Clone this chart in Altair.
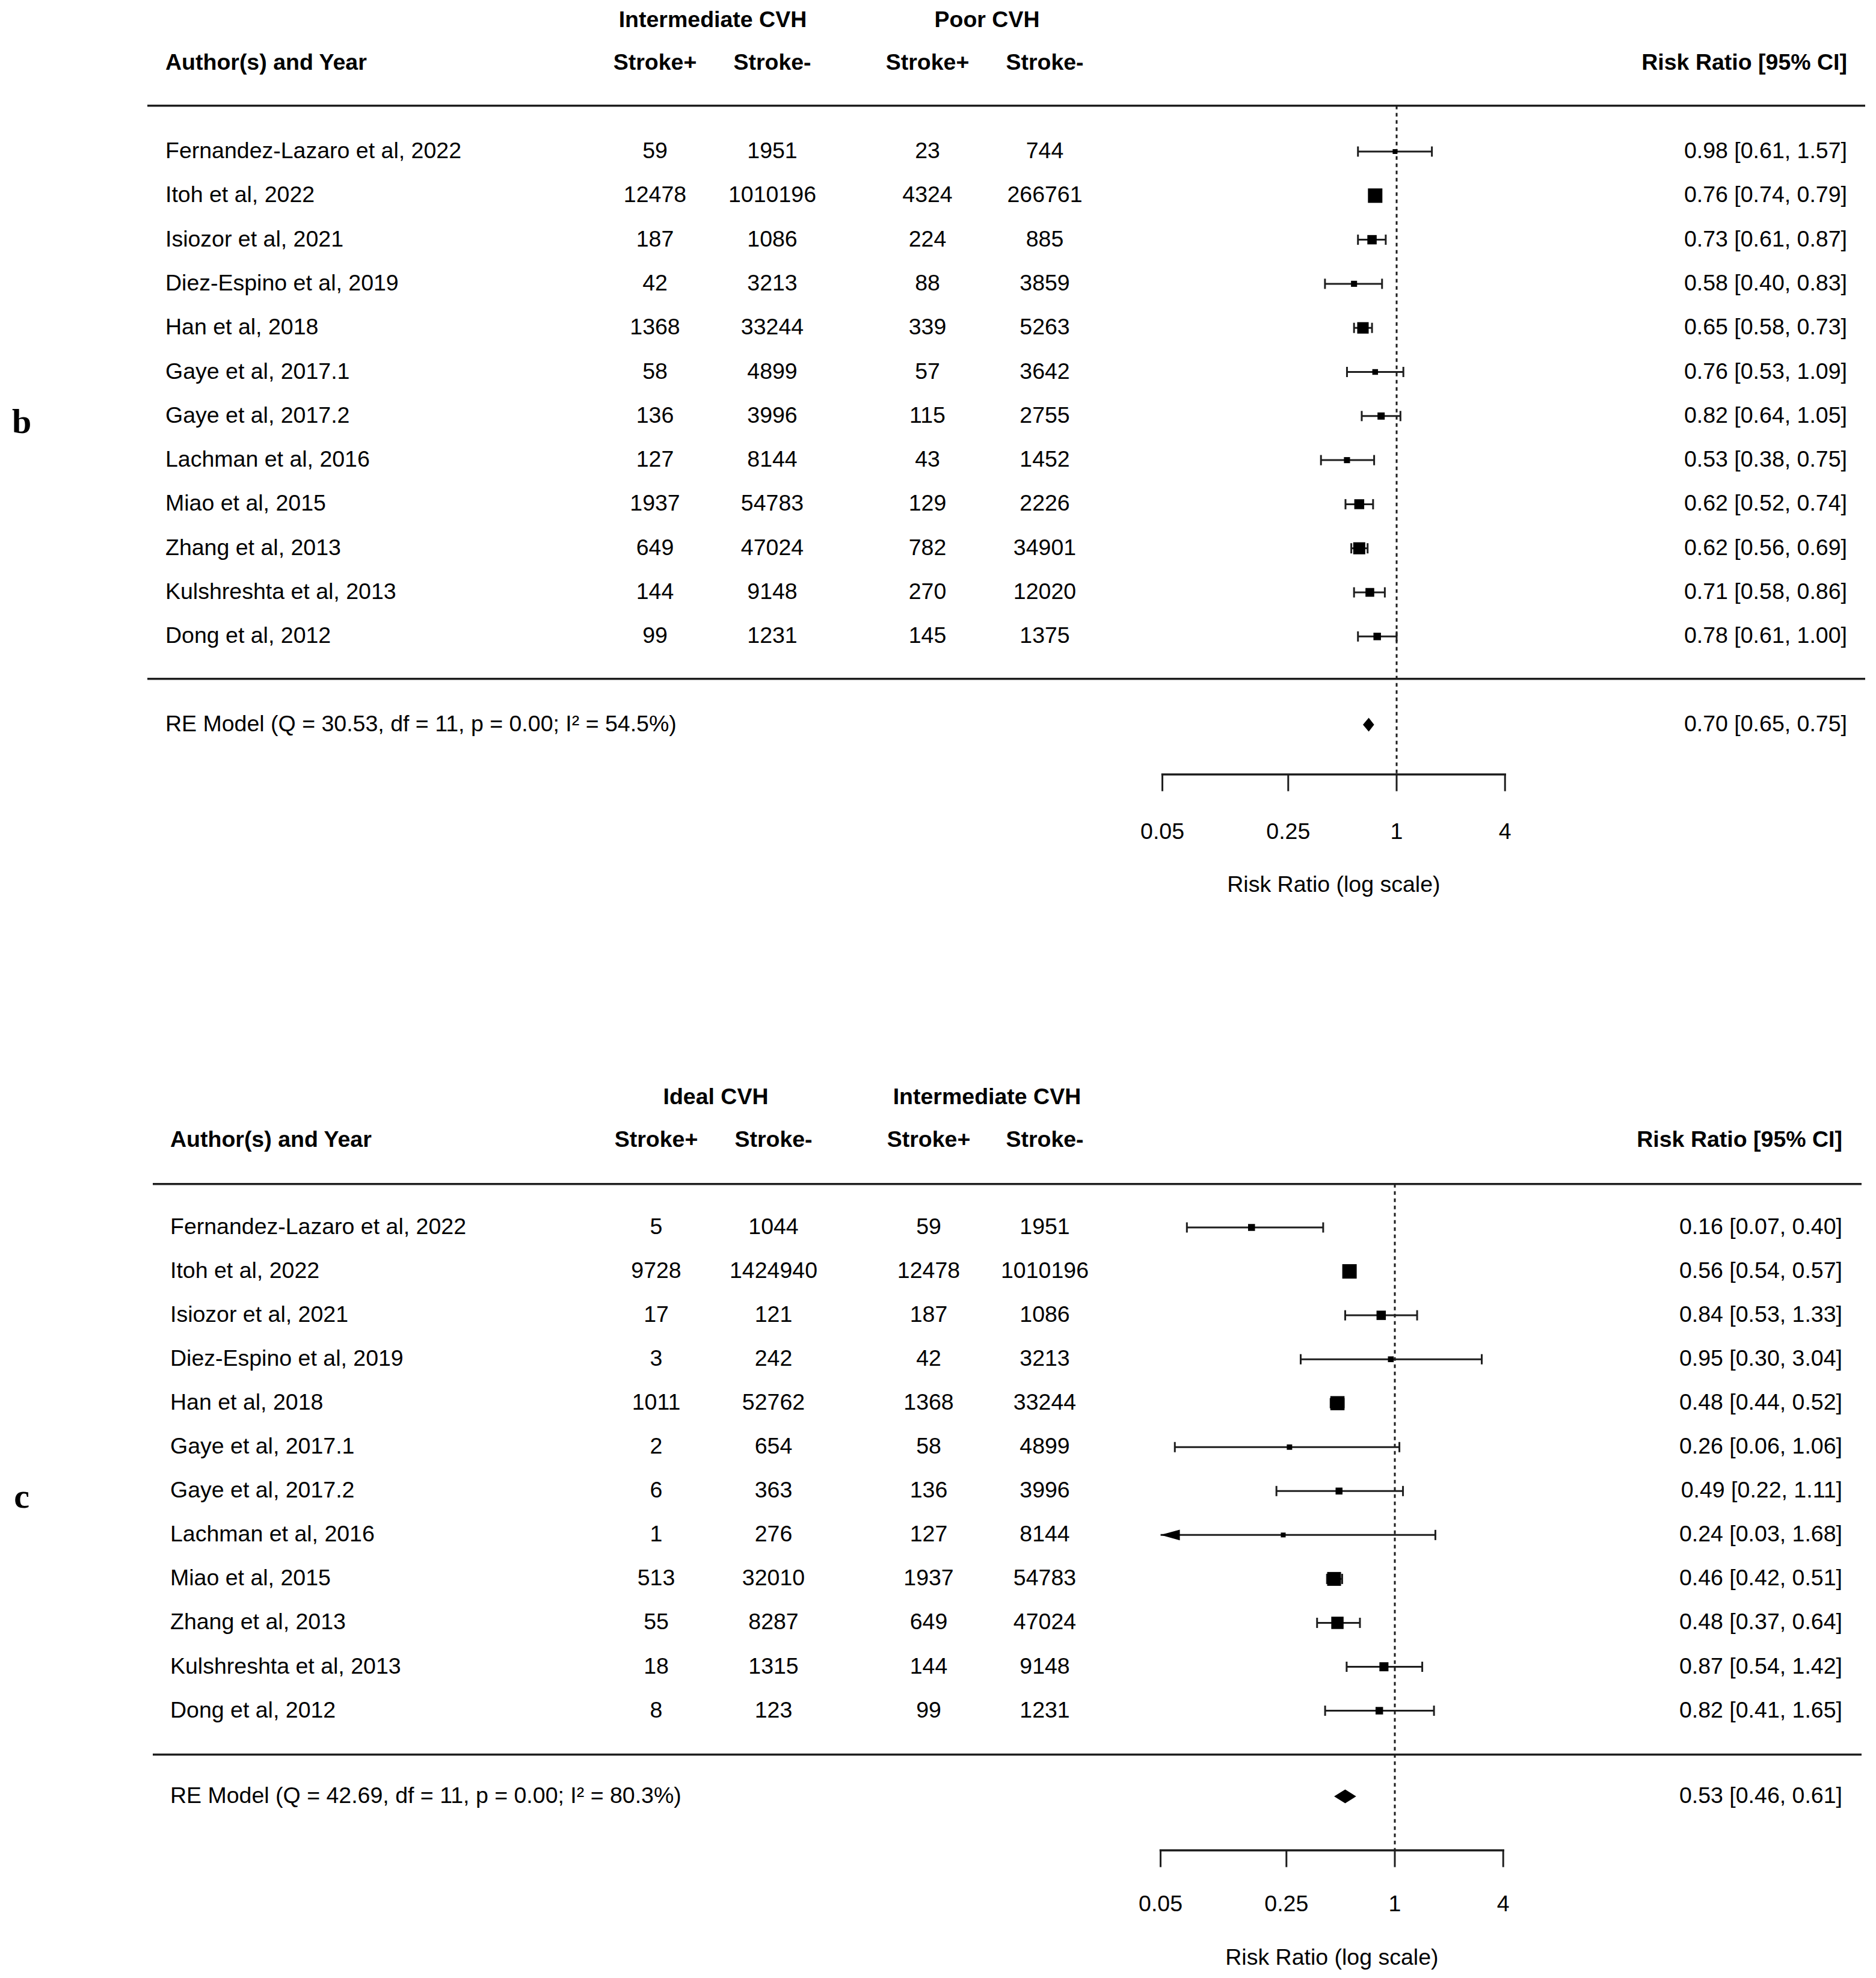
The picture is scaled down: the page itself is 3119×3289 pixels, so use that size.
import math
import pandas as pd
import altair as alt

# ---------------- data ----------------
authors = [
    "Fernandez-Lazaro et al, 2022", "Itoh et al, 2022", "Isiozor et al, 2021",
    "Diez-Espino et al, 2019", "Han et al, 2018", "Gaye et al, 2017.1",
    "Gaye et al, 2017.2", "Lachman et al, 2016", "Miao et al, 2015",
    "Zhang et al, 2013", "Kulshreshta et al, 2013", "Dong et al, 2012",
]

# panel b : Intermediate CVH vs Poor CVH
b_int_pos = [59, 12478, 187, 42, 1368, 58, 136, 127, 1937, 649, 144, 99]
b_int_neg = [1951, 1010196, 1086, 3213, 33244, 4899, 3996, 8144, 54783, 47024, 9148, 1231]
b_poor_pos = [23, 4324, 224, 88, 339, 57, 115, 43, 129, 782, 270, 145]
b_poor_neg = [744, 266761, 885, 3859, 5263, 3642, 2755, 1452, 2226, 34901, 12020, 1375]
b_rr = [0.98, 0.76, 0.73, 0.58, 0.65, 0.76, 0.82, 0.53, 0.62, 0.62, 0.71, 0.78]
b_lo = [0.61, 0.74, 0.61, 0.40, 0.58, 0.53, 0.64, 0.38, 0.52, 0.56, 0.58, 0.61]
b_hi = [1.57, 0.79, 0.87, 0.83, 0.73, 1.09, 1.05, 0.75, 0.74, 0.69, 0.86, 1.00]
b_weight = [0.00, 1.00, 0.47, 0.13, 0.69, 0.09, 0.25, 0.13, 0.53, 0.75, 0.41, 0.28]  # relative (box size)
b_re = [0.70, 0.65, 0.75]
b_re_text = "RE Model (Q = 30.53, df = 11, p = 0.00; I\u00b2 = 54.5%)"

# panel c : Ideal CVH vs Intermediate CVH
c_ideal_pos = [5, 9728, 17, 3, 1011, 2, 6, 1, 513, 55, 18, 8]
c_ideal_neg = [1044, 1424940, 121, 242, 52762, 654, 363, 276, 32010, 8287, 1315, 123]
c_int_pos = [59, 12478, 187, 42, 1368, 58, 136, 127, 1937, 649, 144, 99]
c_int_neg = [1951, 1010196, 1086, 3213, 33244, 4899, 3996, 8144, 54783, 47024, 9148, 1231]
c_rr = [0.16, 0.56, 0.84, 0.95, 0.48, 0.26, 0.49, 0.24, 0.46, 0.48, 0.87, 0.82]
c_lo = [0.07, 0.54, 0.53, 0.30, 0.44, 0.06, 0.22, 0.03, 0.42, 0.37, 0.54, 0.41]
c_hi = [0.40, 0.57, 1.33, 3.04, 0.52, 1.06, 1.11, 1.68, 0.51, 0.64, 1.42, 1.65]
c_weight = [0.22, 1.00, 0.47, 0.10, 0.97, 0.06, 0.22, 0.00, 0.94, 0.78, 0.44, 0.28]
c_re = [0.53, 0.46, 0.61]
c_re_text = "RE Model (Q = 42.69, df = 11, p = 0.00; I\u00b2 = 80.3%)"

axis_ticks = [0.05, 0.25, 1, 4]
axis_tick_labels = ["0.05", "0.25", "1", "4"]
axis_title = "Risk Ratio (log scale)"

# ---------------- styling / layout ----------------
FONT = "Liberation Sans"
FS = 37.5
INK = "#000000"
LINE = "#1e1e1e"
W = 3103
PX_PER_LN = 130.0
M = 8  # page margin


def panel(cfg):
    rp = cfg["row_px"]
    R = cfg["rows"]
    L0 = -(cfg["one_px"] - M) / PX_PER_LN
    L1 = L0 + W / PX_PER_LN
    xscale = alt.Scale(type="log", domain=[math.exp(L0), math.exp(L1)], nice=False, zero=False)
    d0 = -(cfg["row0"] - cfg["top"]) / rp
    d1 = d0 + cfg["height"] / rp
    yscale = alt.Scale(domain=[d0, d1], reverse=True, nice=False, zero=False)

    def X(f):
        return alt.X(f"{f}:Q", scale=xscale, axis=None)

    def Y(f):
        return alt.Y(f"{f}:Q", scale=yscale, axis=None)

    def px(v):
        return alt.value(v - M)

    lo_lim, hi_lim = axis_ticks[0], axis_ticks[-1]
    n = len(authors)
    df = pd.DataFrame({
        "row": list(range(n)),
        "author": authors,
        "c1": [str(v) for v in cfg["c1"]],
        "c2": [str(v) for v in cfg["c2"]],
        "c3": [str(v) for v in cfg["c3"]],
        "c4": [str(v) for v in cfg["c4"]],
        "rr": cfg["rr"], "lo": cfg["lo"], "hi": cfg["hi"], "w": cfg["weight"],
    })
    df["lo_c"] = df["lo"].clip(lower=lo_lim)
    df["hi_c"] = df["hi"].clip(upper=hi_lim)
    df["label"] = [f"{a:.2f} [{b:.2f}, {c:.2f}]" for a, b, c in zip(df.rr, df.lo, df.hi)]

    caps = pd.concat([
        df.loc[df.lo >= lo_lim, ["row", "lo"]].rename(columns={"lo": "x"}),
        df.loc[df.hi <= hi_lim, ["row", "hi"]].rename(columns={"hi": "x"}),
    ])
    arrows = df.loc[df.lo < lo_lim, ["row"]].assign(x=lo_lim)

    layers = []
    # separator lines
    layers.append(alt.Chart(pd.DataFrame({"y": [R["top"], R["bot"]]})).mark_rule(
        color=LINE, strokeWidth=3.5).encode(
        x=px(cfg["line_x"][0]), x2=px(cfg["line_x"][1]), y=Y("y")))
    # reference line at RR = 1
    layers.append(alt.Chart(pd.DataFrame({"x": [1.0], "y": [R["top"]], "y2": [R["axis"]]})).mark_rule(
        color=LINE, strokeWidth=3, strokeDash=[6, 6]).encode(x=X("x"), y=Y("y"), y2="y2"))
    # confidence intervals
    layers.append(alt.Chart(df).mark_rule(color=LINE, strokeWidth=3).encode(
        x=X("lo_c"), x2="hi_c", y=Y("row")))
    layers.append(alt.Chart(caps).mark_tick(orient="vertical", size=17, thickness=3, color=LINE,
                                            opacity=1).encode(x=X("x"), y=Y("row")))
    if len(arrows):
        layers.append(alt.Chart(arrows).mark_point(
            shape="M-1,0L1,-0.56L1,0.56Z", filled=True, size=1024, xOffset=16,
            color=INK, opacity=1, strokeWidth=0).encode(x=X("x"), y=Y("row")))
    # study boxes
    layers.append(alt.Chart(df).transform_calculate(
        area="pow(8 + 16 * datum.w, 2)").mark_square(
        filled=True, color=INK, opacity=1, strokeWidth=0).encode(
        x=X("rr"), y=Y("row"), size=alt.Size("area:Q", scale=None, legend=None)))
    # summary diamond
    est, rlo, rhi = cfg["re"]
    h = 11.5 / rp
    rre = R["re"]
    dia = pd.DataFrame({"x": [rlo, est, rhi], "ya": [rre, rre - h, rre], "yb": [rre, rre + h, rre]})
    layers.append(alt.Chart(dia).mark_area(orient="vertical", color=INK, opacity=1).encode(
        x=X("x"), y=Y("ya"), y2="yb"))

    # text columns
    def txt(data, field, xv, align="center", bold=False, yfield="row"):
        return alt.Chart(data).mark_text(
            align=align, baseline="middle", font=FONT, fontSize=FS, color=INK,
            fontWeight="bold" if bold else "normal").encode(
            x=px(xv), y=Y(yfield), text=f"{field}:N")

    layers.append(txt(df, "author", cfg["author_x"], align="left"))
    for k, f in enumerate(["c1", "c2", "c3", "c4"]):
        layers.append(txt(df, f, cfg["col_x"][k]))
    layers.append(txt(df, "label", cfg["right_x"], align="right"))

    def one(text, xv, row, align="center", bold=False):
        return txt(pd.DataFrame({"t": [text], "y": [row]}), "t", xv, align=align, bold=bold, yfield="y")

    layers.append(one(cfg["grp1"], cfg["grp_x"][0], R["hdr1"], bold=True))
    layers.append(one(cfg["grp2"], cfg["grp_x"][1], R["hdr1"], bold=True))
    layers.append(one("Author(s) and Year", cfg["author_x"], R["hdr2"], align="left", bold=True))
    for k in range(4):
        layers.append(one("Stroke+" if k % 2 == 0 else "Stroke-", cfg["col_x"][k], R["hdr2"], bold=True))
    layers.append(one("Risk Ratio [95% CI]", cfg["right_x"], R["hdr2"], align="right", bold=True))
    layers.append(one(cfg["re_text"], cfg["author_x"], rre, align="left"))
    layers.append(one(f"{est:.2f} [{rlo:.2f}, {rhi:.2f}]", cfg["right_x"], rre, align="right"))

    # panel tag
    layers.append(alt.Chart(pd.DataFrame({"t": [cfg["tag"]], "y": [cfg["tag_row"]]})).mark_text(
        align="center", baseline="middle", font="Liberation Serif", fontSize=58,
        fontWeight="bold", color=INK).encode(x=px(36), y=Y("y"), text="t:N"))

    # x axis drawn from the tick values
    ax = pd.DataFrame({"a": [lo_lim], "b": [hi_lim], "y": [R["axis"]]})
    layers.append(alt.Chart(ax).mark_rule(color=LINE, strokeWidth=3.5, strokeCap="square").encode(
        x=X("a"), x2="b", y=Y("y")))
    tk = pd.DataFrame({"x": axis_ticks, "lab": axis_tick_labels,
                       "y": [R["axis"]] * 4, "y2": [R["axis"] + 0.38] * 4, "yl": [R["tlab"]] * 4})
    layers.append(alt.Chart(tk).mark_rule(color=LINE, strokeWidth=3).encode(x=X("x"), y=Y("y"), y2="y2"))
    layers.append(alt.Chart(tk).mark_text(baseline="middle", font=FONT, fontSize=FS, color=INK).encode(
        x=X("x"), y=Y("yl"), text="lab:N"))
    tt = pd.DataFrame({"x": [math.sqrt(lo_lim * hi_lim)], "y": [R["title"]], "t": [axis_title]})
    layers.append(alt.Chart(tt).mark_text(baseline="middle", font=FONT, fontSize=FS, color=INK).encode(
        x=X("x"), y=Y("y"), text="t:N"))

    return alt.layer(*layers).properties(width=W, height=cfg["height"])


B = dict(grp1="Intermediate CVH", grp2="Poor CVH",
         c1=b_int_pos, c2=b_int_neg, c3=b_poor_pos, c4=b_poor_neg,
         rr=b_rr, lo=b_lo, hi=b_hi, weight=b_weight, re=b_re, re_text=b_re_text,
         tag="b", tag_row=6.15,
         one_px=2322, row0=252, row_px=73.3, top=8, height=1787,
         rows=dict(hdr1=-2.97, hdr2=-2.0, top=-1.04, bot=11.96, re=13.0,
                   axis=14.13, tlab=15.44, title=16.64),
         author_x=275, col_x=[1089, 1284, 1542, 1737], grp_x=[1185, 1641],
         right_x=3071, line_x=[245, 3101])

C = dict(grp1="Ideal CVH", grp2="Intermediate CVH",
         c1=c_ideal_pos, c2=c_ideal_neg, c3=c_int_pos, c4=c_int_neg,
         rr=c_rr, lo=c_lo, hi=c_hi, weight=c_weight, re=c_re, re_text=c_re_text,
         tag="c", tag_row=6.15,
         one_px=2319, row0=2041, row_px=73.05, top=1795, height=1486,
         rows=dict(hdr1=-2.96, hdr2=-1.98, top=-0.99, bot=12.0, re=12.95,
                   axis=14.18, tlab=15.42, title=16.63),
         author_x=283, col_x=[1091, 1286, 1544, 1737], grp_x=[1190, 1641],
         right_x=3063, line_x=[254, 3095])

chart = alt.vconcat(panel(B), panel(C), spacing=0, bounds="flush").properties(
    padding=0, background="white"
).configure_view(stroke=None)

chart.save("out.html", embed_options={"renderer": "svg", "actions": False})
